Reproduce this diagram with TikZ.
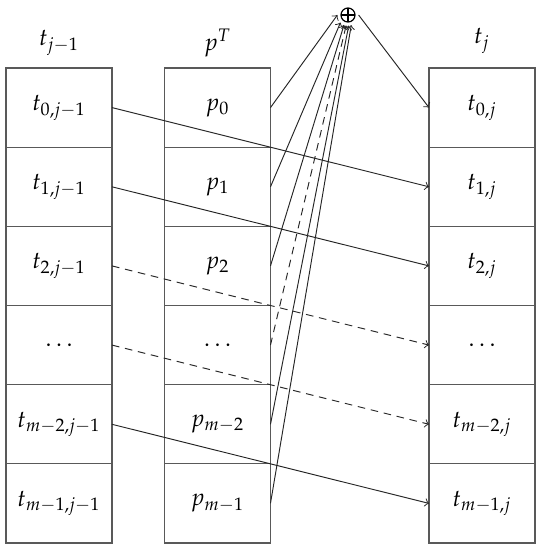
\documentclass[tikz,border=0pt]{standalone}
\usepackage{mathpazo}
\begin{document}
\begin{tikzpicture}[x=0.42pt,y=-0.42pt,
  cell/.style={draw=black!65, line width=0.5pt, minimum width=44.5pt, minimum height=33.25pt, inner sep=0pt, outer sep=0pt},
  title/.style={inner sep=0pt},
  conn/.style={->, line width=0.4pt, draw=black!85},
  dconn/.style={conn, dash pattern=on 3.2pt off 2.4pt},
  opl/.style={circle, draw=black, line width=0.5pt, minimum size=5.9pt, inner sep=0pt, outer sep=1.5pt,
    path picture={\draw[line width=0.5pt] (path picture bounding box.north) -- (path picture bounding box.south)
      (path picture bounding box.west) -- (path picture bounding box.east);}}]
\useasboundingbox (0,0) rectangle (542,550);
% titles
\node[title] (tl) at (59,43) {$t_{j-1}$};
\node[title] (tm) at (217.5,43) {$p^{T}$};
\node[title] (tr) at (482,41) {$t_{j}$};
% left column
\node[cell] (l0) at (59,107.6) {$t_{0,j-1}$};
\node[cell] (l1) at (59,186.8) {$t_{1,j-1}$};
\node[cell] (l2) at (59,265.9) {$t_{2,j-1}$};
\node[cell] (l3) at (59,345.1) {$\dots$};
\node[cell] (l4) at (59,424.3) {$t_{m-2,j-1}$};
\node[cell] (l5) at (59,503.4) {$t_{m-1,j-1}$};
% middle column
\node[cell] (m0) at (217.5,107.6) {$p_{0}$};
\node[cell] (m1) at (217.5,186.8) {$p_{1}$};
\node[cell] (m2) at (217.5,265.9) {$p_{2}$};
\node[cell] (m3) at (217.5,345.1) {$\dots$};
\node[cell] (m4) at (217.5,424.3) {$p_{m-2}$};
\node[cell] (m5) at (217.5,503.4) {$p_{m-1}$};
% right column
\node[cell] (r0) at (482,107.6) {$t_{0,j}$};
\node[cell] (r1) at (482,186.8) {$t_{1,j}$};
\node[cell] (r2) at (482,265.9) {$t_{2,j}$};
\node[cell] (r3) at (482,345.1) {$\dots$};
\node[cell] (r4) at (482,424.3) {$t_{m-2,j}$};
\node[cell] (r5) at (482,503.4) {$t_{m-1,j}$};
% oplus
\node[opl] (op) at (348,15) {};
% shifted connectors
\draw[conn] (l0.east) -- (r1.west);
\draw[conn] (l1.east) -- (r2.west);
\draw[dconn] (l2.east) -- (r3.west);
\draw[dconn] (l3.east) -- (r4.west);
\draw[conn] (l4.east) -- (r5.west);
% to oplus
\draw[conn] (m0.east) -- (op.180);
\draw[conn] (m1.east) -- (op.225);
\draw[conn] (m2.east) -- (op.248);
\draw[dconn] (m3.east) -- (op.260);
\draw[conn] (m4.east) -- (op.274);
\draw[conn] (m5.east) -- (op.288);
\draw[conn] (op.east) -- (r0.west);
\end{tikzpicture}
\end{document}
